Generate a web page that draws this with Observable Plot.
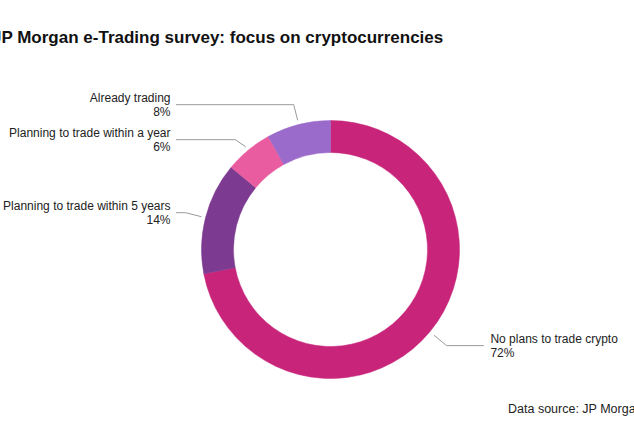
<!DOCTYPE html>
<html>
<head>
<meta charset="utf-8">
<script src="https://cdn.jsdelivr.net/npm/d3@7"></script>
<script src="https://cdn.jsdelivr.net/npm/@observablehq/plot@0.6"></script>
<style>
  html, body { margin: 0; padding: 0; background: #fff; overflow: hidden; }
  body { width: 634px; height: 433px; position: relative; font-family: "Liberation Sans", Arial, sans-serif; }
  #title { position: absolute; left: -8px; top: 0; height: 58px; line-height: 75px; font-size: 17px; font-weight: bold; color: #111; white-space: nowrap; }
  #chart { position: absolute; left: 0; top: 58px; }
  #caption { position: absolute; left: 508px; top: 398px; line-height: 22px; font-size: 12.5px; color: #222; white-space: nowrap; }
</style>
</head>
<body>
<div id="title">JP Morgan e-Trading survey: focus on cryptocurrencies</div>
<div id="chart"></div>
<div id="caption">Data source: JP Morgan</div>
<script>
// ---- data ----
const categories = ["No plans to trade crypto", "Planning to trade within 5 years", "Planning to trade within a year", "Already trading"];
const shares = [72, 14, 6, 8];
const colors = ["#C7247A", "#7D3A91", "#E95C9F", "#9B6BCB"];

// ---- layout ----
const W = 634, H = 340;
const cx = 330.5, cy = 191.5, R = 129;
const innerRatio = 0.752;
const connectorStart = 1.04;   // radius (units) where leader lines start
const labelRadius = 1.163;     // natural label radius (units)
const leftLineEnd = -1.198, leftTextX = -1.244;
const rightLineEnd = 1.182, rightTextX = 1.236;
const minGap = 35 / R;         // min vertical spacing between labels (units)

const data = categories.map((c, i) => ({category: c, value: shares[i], color: colors[i]}));
const arcs = d3.pie().sort(null).value(d => d.value)(data);

const labels = arcs.map(a => {
  const mid = (a.startAngle + a.endAngle) / 2;
  const sx = Math.sin(mid), sy = Math.cos(mid);
  return {
    category: a.data.category, value: a.data.value,
    side: sx < 0 ? "left" : "right",
    px: sx * connectorStart, py: sy * connectorStart,
    ex: sx * labelRadius, ey: sy * labelRadius
  };
});
// resolve overlaps per side (top to bottom)
for (const side of ["left", "right"]) {
  const group = labels.filter(l => l.side === side).sort((a, b) => b.ey - a.ey);
  for (let i = 1; i < group.length; i++) {
    if (group[i - 1].ey - group[i].ey < minGap) group[i].ey = group[i - 1].ey - minGap;
  }
}
const lineData = [];
labels.forEach(l => {
  const endX = l.side === "left" ? leftLineEnd : rightLineEnd;
  lineData.push({k: l.category, x: l.px, y: l.py});
  lineData.push({k: l.category, x: l.ex, y: l.ey});
  lineData.push({k: l.category, x: endX, y: l.ey});
});
const textData = labels.map(l => ({
  x: l.side === "left" ? leftTextX : rightTextX,
  y: l.ey,
  side: l.side,
  text: `${l.category}\n${l.value}%`
}));

function donut(index, scales) {
  const x0 = scales.x(0), y0 = scales.y(0);
  const ro = scales.x(1) - scales.x(0);
  const arc = d3.arc().innerRadius(ro * innerRatio).outerRadius(ro);
  const g = d3.create("svg:g").attr("transform", `translate(${x0},${y0})`);
  g.selectAll("path").data(arcs).join("path")
    .attr("d", arc)
    .attr("fill", d => d.data.color)
    .attr("stroke", d => d.data.color)
    .attr("stroke-width", 0.5);
  return g.node();
}

const plot = Plot.plot({
  width: W, height: H,
  margin: 0,
  x: {type: "linear", domain: [-1, 1], range: [cx - R, cx + R], axis: null},
  y: {type: "linear", domain: [-1, 1], range: [cy + R, cy - R], axis: null},
  style: {fontFamily: "Liberation Sans, Arial, sans-serif", background: "#fff", overflow: "visible"},
  marks: [
    donut,
    Plot.line(lineData, {x: "x", y: "y", z: "k", stroke: "#9a9a9a", strokeWidth: 1, curve: "linear"}),
    Plot.text(textData.filter(d => d.side === "left"), {x: "x", y: "y", text: "text", textAnchor: "end", lineAnchor: "middle", lineHeight: 1.17, fontSize: 12, fill: "#222"}),
    Plot.text(textData.filter(d => d.side === "right"), {x: "x", y: "y", text: "text", textAnchor: "start", lineAnchor: "middle", lineHeight: 1.17, fontSize: 12, fill: "#222"})
  ]
});
document.getElementById("chart").appendChild(plot);
</script>
</body>
</html>
